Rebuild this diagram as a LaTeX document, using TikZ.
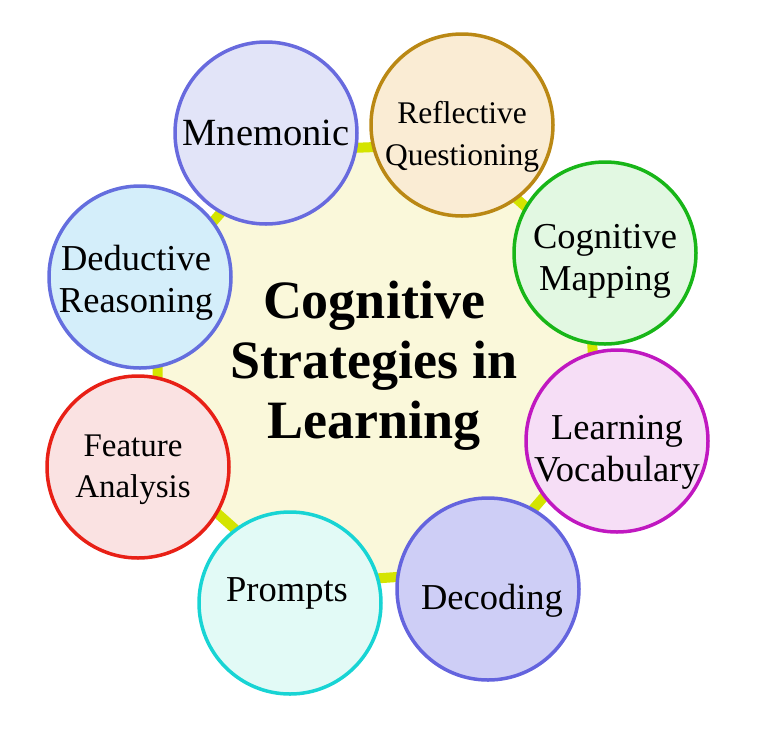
\documentclass[tikz,border=0pt]{standalone}
\usepackage{fontspec}
\setmainfont{Liberation Serif}
\usepackage{tikz}
\usetikzlibrary{calc, backgrounds}

\definecolor{hubfill}{RGB}{250,248,218}
\definecolor{linkcol}{RGB}{212,228,0}
\definecolor{mnline}{RGB}{104,106,222}
\definecolor{mnfill}{RGB}{226,228,248}
\definecolor{rqline}{RGB}{186,136,20}
\definecolor{rqfill}{RGB}{250,236,212}
\definecolor{cmline}{RGB}{24,182,24}
\definecolor{cmfill}{RGB}{226,248,226}
\definecolor{lvline}{RGB}{192,24,192}
\definecolor{lvfill}{RGB}{246,222,246}
\definecolor{dcline}{RGB}{100,100,222}
\definecolor{dcfill}{RGB}{206,206,246}
\definecolor{prline}{RGB}{24,212,212}
\definecolor{prfill}{RGB}{226,250,246}
\definecolor{faline}{RGB}{232,32,22}
\definecolor{fafill}{RGB}{250,226,226}
\definecolor{drline}{RGB}{100,110,222}
\definecolor{drfill}{RGB}{212,238,250}

\begin{document}
\begin{tikzpicture}[x=1pt, y=-1pt,
    idea/.style={circle, minimum size=182pt, inner sep=0pt, line width=3.5pt},
    tag/.style={align=center, font=\fontsize{36.5}{42}\selectfont},
    link/.style={line width=10pt, draw=linkcol, fill=hubfill, line join=round}]
    \useasboundingbox (0, 0) rectangle (768, 737);

    \coordinate (hub) at (378, 363);
    \node[idea, draw=mnline, fill=mnfill] (mn) at (266, 133) {};
    \node[idea, draw=rqline, fill=rqfill] (rq) at (462, 125) {};
    \node[idea, draw=cmline, fill=cmfill] (cm) at (605, 253) {};
    \node[idea, draw=lvline, fill=lvfill] (lv) at (617, 441) {};
    \node[idea, draw=dcline, fill=dcfill] (dc) at (488, 589) {};
    \node[idea, draw=prline, fill=prfill] (pr) at (290, 603) {};
    \node[idea, draw=faline, fill=fafill] (fa) at (138, 467) {};
    \node[idea, draw=drline, fill=drfill] (dr) at (140, 277) {};

    % ring behind the circles
    \begin{scope}[on background layer]
    \path[link] ($(mn.center)!20pt!(hub)$) -- ($(rq.center)!20pt!(hub)$)
        -- ($(cm.center)!20pt!(hub)$) -- ($(lv.center)!20pt!(hub)$)
        -- ($(dc.center)!20pt!(hub)$) -- ($(pr.center)!20pt!(hub)$)
        -- ($(fa.center)!20pt!(hub)$) -- ($(dr.center)!20pt!(hub)$) -- cycle;
    \end{scope}

    \node[tag, font=\fontsize{38.5}{42}\selectfont] (mnt) at (mn) {Mnemonic};
    \node[tag, font=\fontsize{31.5}{42}\selectfont] (rqt) at ([yshift=-12pt]rq.center) {Reflective\\Questioning};
    \node[tag] (cmt) at ([yshift=-8pt]cm.center) {Cognitive\\Mapping};
    \node[tag] (lvt) at ([yshift=-11pt]lv.center) {Learning\\Vocabulary};
    \node[tag] (dct) at ([shift={(4pt,-12pt)}]dc.center) {Decoding};
    \node[tag] (prt) at ([shift={(-3pt,10pt)}]pr.center) {Prompts};
    \node[tag, font=\fontsize{33}{41}\selectfont] (fat) at ([shift={(-5pt,-3pt)}]fa.center) {Feature\\Analysis};
    \node[tag] (drt) at ([shift={(-4pt,-6pt)}]dr.center) {Deductive\\Reasoning};

    \node (title) at (374, 366) [align=center, font=\bfseries\fontsize{54}{60}\selectfont]
        {Cognitive\\Strategies in\\Learning};
\end{tikzpicture}
\end{document}
